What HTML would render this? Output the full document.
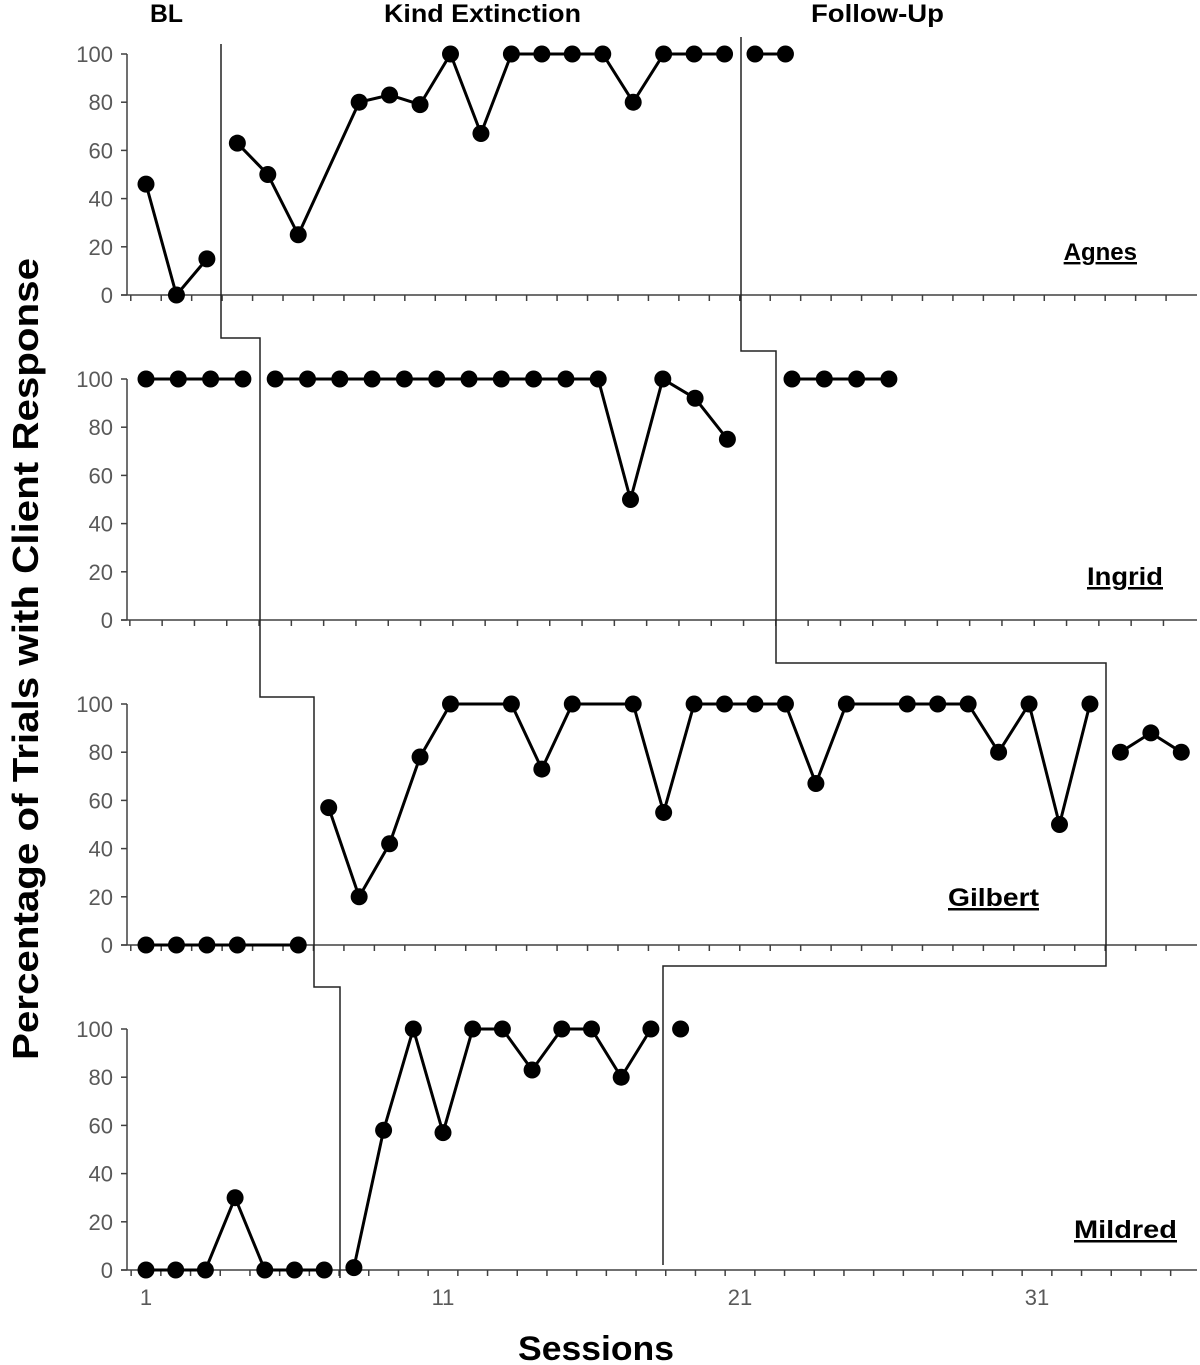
<!DOCTYPE html>
<html><head><meta charset="utf-8"><style>
html,body{margin:0;padding:0;background:#fff;}
svg{display:block;font-family:"Liberation Sans",sans-serif;}
</style></head><body>
<svg id="chart" width="1200" height="1365" viewBox="0 0 1200 1365">
<text x="150" y="22" font-size="25" font-weight="bold" textLength="33" lengthAdjust="spacingAndGlyphs">BL</text>
<text x="384" y="22" font-size="25" font-weight="bold" textLength="197" lengthAdjust="spacingAndGlyphs">Kind Extinction</text>
<text x="811" y="22" font-size="25" font-weight="bold" textLength="133" lengthAdjust="spacingAndGlyphs">Follow-Up</text>
<text transform="translate(38,1060) rotate(-90)" font-size="36" font-weight="bold" textLength="802" lengthAdjust="spacingAndGlyphs">Percentage of Trials with Client Response</text>
<text x="518" y="1360" font-size="34" font-weight="bold" textLength="156" lengthAdjust="spacingAndGlyphs">Sessions</text>
<text x="1137" y="260" font-size="24" font-weight="bold" text-anchor="end" text-decoration="underline">Agnes</text>
<g id="plots"></g>
</svg>
<script>
// Agnes
const agnesBL = [[1,46],[2,0],[3,15]];
const agnesTx = [[4,63],[5,50],[6,25],[8,80],[9,83],[10,79],[11,100],[12,67],[13,100],[14,100],[15,100],[16,100],[17,80],[18,100],[19,100],[20,100]];
const agnesFU = [[21,100],[22,100]];
// Ingrid
const ingridBL = [[1,100],[2,100],[3,100],[4,100]];
const ingridTx = [[5,100],[6,100],[7,100],[8,100],[9,100],[10,100],[11,100],[12,100],[13,100],[14,100],[15,100],[16,50],[17,100],[18,92],[19,75]];
const ingridFU = [[21,100],[22,100],[23,100],[24,100]];
// Gilbert
const gilbertBL = [[1,0],[2,0],[3,0],[4,0],[6,0]];
const gilbertTx = [[7,57],[8,20],[9,42],[10,78],[11,100],[13,100],[14,73],[15,100],[17,100],[18,55],[19,100],[20,100],[21,100],[22,100],[23,67],[24,100],[26,100],[27,100],[28,100],[29,80],[30,100],[31,50],[32,100]];
const gilbertFU = [[33,80],[34,88],[35,80]];
// Mildred
const mildredBL = [[1,0],[2,0],[3,0],[4,30],[5,0],[6,0],[7,0]];
const mildredTx = [[8,1],[9,58],[10,100],[11,57],[12,100],[13,100],[14,83],[15,100],[16,100],[17,80],[18,100]];
const mildredFU = [[19,100]];
const yTicks = [0,20,40,60,80,100];
const xTickLabels = [1,11,21,31];

const NS="http://www.w3.org/2000/svg";
const root=document.getElementById('plots');
function mk(tag,attrs,parent){const e=document.createElementNS(NS,tag);for(const k in attrs)e.setAttribute(k,attrs[k]);(parent||root).appendChild(e);return e;}

const panels=[
 {name:'agnes',label:null,series:[agnesBL,agnesTx,agnesFU],y0:295,y100:54,step:30.45,nt:35},
 {name:'ingrid',label:'Ingrid',series:[ingridBL,ingridTx,ingridFU],y0:620,y100:379,step:32.3,lx:1087,lw:76,ly:585,nt:33},
 {name:'gilbert',label:'Gilbert',series:[gilbertBL,gilbertTx,gilbertFU],y0:945,y100:704,step:30.45,lx:948,lw:91,ly:906,nt:35},
 {name:'mildred',label:'Mildred',series:[mildredBL,mildredTx,mildredFU],y0:1270,y100:1029,step:29.7,lx:1074,lw:103,ly:1238,nt:36}
];
const X0=146, AX=127, XEND=1197;
panels.forEach((p,pi)=>{
  const g=mk('g',{});
  
  
  const xs=s=>X0+(s-1)*p.step;
  const ys=v=>p.y0-(v/100)*(p.y0-p.y100);
  const yax=mk('line',{x1:AX,y1:p.y100,x2:AX,y2:p.y0,stroke:'#404040','stroke-width':1.5},g);
  
  
  const xax=mk('line',{x1:AX-6,y1:p.y0,x2:XEND,y2:p.y0,stroke:'#404040','stroke-width':1.5},g);
  
  
  yTicks.forEach(t=>{
    const y=ys(t);
    mk('line',{x1:AX-6,y1:y,x2:AX,y2:y,stroke:'#404040','stroke-width':1.5},g);
    const tl=mk('text',{x:113,y:y+8,'font-size':22,fill:'#595959','text-anchor':'end'},g);
    tl.textContent=t;
    
    
  });
  for(let i=0;i<p.nt;i++){
    const x=xs(i+0.5);
    if(x>XEND)break;
    mk('line',{x1:x,y1:p.y0,x2:x,y2:p.y0+6,stroke:'#404040','stroke-width':1.5},g);
  }
  if(pi===3){
    xTickLabels.forEach(s=>{
      const tl=mk('text',{x:xs(s),y:p.y0+35,'font-size':22,fill:'#595959','text-anchor':'middle'},g);
      tl.textContent=s;
      
      
    });
  }
  p.series.forEach((ser,si)=>{
    const pts=ser.map(d=>xs(d[0])+','+ys(d[1])).join(' ');
    const pl=mk('polyline',{points:pts,fill:'none',stroke:'#000','stroke-width':3},g);
    
    
    ser.forEach(d=>{
      const c=mk('circle',{cx:xs(d[0]),cy:ys(d[1]),r:8.5,fill:'#000'},g);
      
      
    });
  });
  if(p.label){
    const nl=mk('text',{x:p.lx,y:p.ly,'font-size':25,'font-weight':'bold','text-decoration':'underline',textLength:p.lw,lengthAdjust:'spacingAndGlyphs'},g);
    nl.textContent=p.label;
    
    
  }
});
// phase change lines
const pc1=mk('polyline',{points:'221,44 221,338 260,338 260,697 314,697 314,987 340,987 340,1278',fill:'none',stroke:'#222','stroke-width':1.5});


const pc2=mk('polyline',{points:'741,37 741,351 776,351 776,663 1106,663 1106,966 663,966 663,1265',fill:'none',stroke:'#222','stroke-width':1.5});


</script>
</body></html>
